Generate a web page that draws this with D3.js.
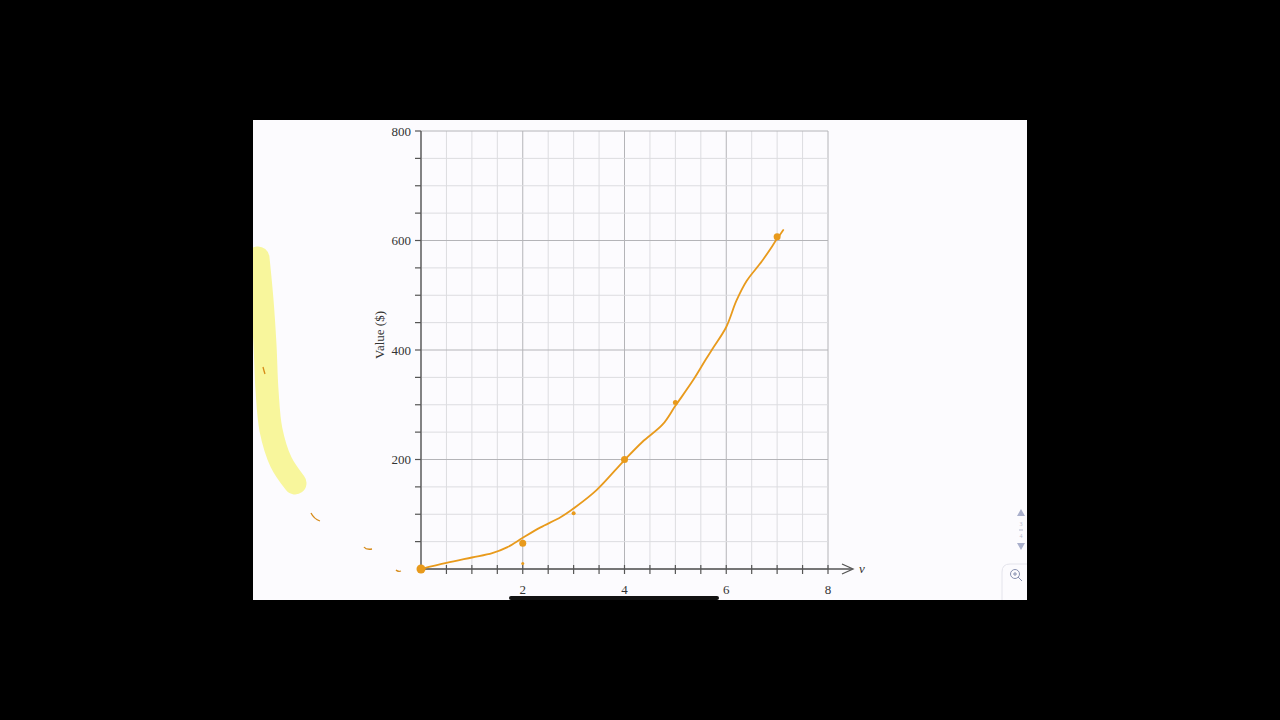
<!DOCTYPE html>
<html>
<head>
<meta charset="utf-8">
<script src="https://cdn.jsdelivr.net/npm/d3@7"></script>
<style>
  html, body { margin: 0; padding: 0; background: #000; }
  svg { display: block; }
  text { font-family: "Liberation Serif", "DejaVu Serif", serif; fill: #333; }
</style>
</head>
<body>
<svg id="chart" width="1280" height="720"></svg>
<script>
// hand drawn curve
const curveX = [0, 0.5, 1, 1.4, 1.7, 2, 2.35, 2.75, 3.05, 3.45, 4, 4.35, 4.75, 5, 5.35, 5.6, 5.75, 6, 6.2, 6.4, 6.7, 7, 7.12];
const curveY = [0, 11, 21, 29, 40, 57, 76, 95, 114, 144, 199, 232, 264, 298, 345, 383, 405, 442, 490, 526, 562, 603, 619];

// dots put down on the grid
const dotX = [0, 2, 2, 3, 4, 5, 7];
const dotY = [0, 47, 10, 102, 200, 304, 607];
const dotR = [4.5, 3.5, 1.5, 2, 3.5, 2.5, 3.5];

const xTickLabels = [2, 4, 6, 8];
const yTickLabels = [200, 400, 600, 800];

const orange = "#e89a1c";

const svg = d3.select("#chart");

// page
svg.append("rect")
  .attr("x", 253).attr("y", 120)
  .attr("width", 774).attr("height", 480)
  .attr("fill", "#fcfbfe");

svg.append("clipPath").attr("id", "page")
  .append("rect")
  .attr("x", 253).attr("y", 120)
  .attr("width", 774).attr("height", 480);

const x = d3.scaleLinear().domain([0, 8]).range([421, 828]);
const y = d3.scaleLinear().domain([0, 800]).range([569, 131]);

// grid
const g = svg.append("g");
const xs = d3.range(0, 8.01, 0.5);
const ys = d3.range(0, 801, 50);

g.selectAll(".vgrid").data(xs).join("line")
  .attr("x1", d => x(d)).attr("x2", d => x(d))
  .attr("y1", y(800)).attr("y2", y(0))
  .attr("stroke", d => d % 2 === 0 ? "#b4b4b8" : "#dcdce0")
  .attr("stroke-width", 1);

g.selectAll(".hgrid").data(ys).join("line")
  .attr("x1", x(0)).attr("x2", x(8))
  .attr("y1", d => y(d)).attr("y2", d => y(d))
  .attr("stroke", d => d % 200 === 0 ? "#b4b4b8" : "#dcdce0")
  .attr("stroke-width", 1);

// y axis
g.append("line")
  .attr("x1", x(0)).attr("x2", x(0))
  .attr("y1", y(800)).attr("y2", y(0))
  .attr("stroke", "#555").attr("stroke-width", 1.3);

g.selectAll(".ytick").data(ys.filter(d => d > 0)).join("line")
  .attr("x1", x(0) - 6).attr("x2", x(0))
  .attr("y1", d => y(d)).attr("y2", d => y(d))
  .attr("stroke", "#555").attr("stroke-width", 1.2);

g.selectAll(".ylab").data(yTickLabels).join("text")
  .attr("x", x(0) - 10).attr("y", d => y(d) + 4.5)
  .attr("text-anchor", "end")
  .attr("font-size", 13)
  .text(d => d);

svg.append("text")
  .attr("transform", `translate(384, ${y(400) - 15}) rotate(-90)`)
  .attr("text-anchor", "middle")
  .attr("font-size", 13)
  .text("Value ($)");

// x axis with arrow
g.append("line")
  .attr("x1", x(0)).attr("x2", 852)
  .attr("y1", y(0)).attr("y2", y(0))
  .attr("stroke", "#555").attr("stroke-width", 1.3);

g.append("path")
  .attr("d", `M842,${y(0) - 5} L853,${y(0)} L842,${y(0) + 5}`)
  .attr("fill", "none").attr("stroke", "#555").attr("stroke-width", 1.3);

g.selectAll(".xtick").data(xs.filter(d => d > 0)).join("line")
  .attr("x1", d => x(d)).attr("x2", d => x(d))
  .attr("y1", y(0) - 4).attr("y2", y(0) + 5)
  .attr("stroke", "#555").attr("stroke-width", 1.2);

g.selectAll(".xlab").data(xTickLabels).join("text")
  .attr("x", d => x(d)).attr("y", y(0) + 25)
  .attr("text-anchor", "middle")
  .attr("font-size", 13)
  .text(d => d);

svg.append("text")
  .attr("x", 862).attr("y", y(0) + 4)
  .attr("text-anchor", "middle")
  .attr("font-size", 13)
  .attr("font-style", "italic")
  .text("v");

// the curve
const line = d3.line()
  .x((d, i) => x(curveX[i]))
  .y(d => y(d))
  .curve(d3.curveCatmullRom.alpha(0.5));

svg.append("path")
  .attr("d", line(curveY))
  .attr("fill", "none")
  .attr("stroke", orange)
  .attr("stroke-width", 1.8)
  .attr("stroke-linecap", "round");

svg.selectAll(".dot").data(dotY).join("circle")
  .attr("cx", (d, i) => x(dotX[i]))
  .attr("cy", d => y(d))
  .attr("r", (d, i) => dotR[i])
  .attr("fill", orange);

// highlighter stroke and pen marks on the left margin
const hl = [[258, 258], [262, 300], [265, 345], [267, 390], [271, 430], [281, 462], [295, 483]];
svg.append("path")
  .attr("clip-path", "url(#page)")
  .attr("d", d3.line().curve(d3.curveCatmullRom)(hl))
  .attr("fill", "none")
  .attr("stroke", "#f8f69c")
  .attr("stroke-width", 23)
  .attr("stroke-linecap", "round");

const marks = [
  "M263,367 q1,4 2,7",
  "M311,513 q3,6 9,8",
  "M364,547 q2,3 8,2",
  "M396,570 q2,2 5,1"
];
svg.selectAll(".mark").data(marks).join("path")
  .attr("d", d => d)
  .attr("fill", "none")
  .attr("stroke", "#d68a18")
  .attr("stroke-width", 1.3);

// page scroller and zoom icon on the right
svg.append("path")
  .attr("d", "M1017,516 L1021,509 L1025,516 Z M1017,543 L1021,550 L1025,543 Z")
  .attr("fill", "#aab0cc");
svg.append("text")
  .attr("x", 1021).attr("y", 526)
  .attr("text-anchor", "middle").attr("font-size", 6)
  .style("fill", "#b8bcd0").text("3");
svg.append("text")
  .attr("x", 1021).attr("y", 538)
  .attr("text-anchor", "middle").attr("font-size", 6)
  .style("fill", "#b8bcd0").text("4");
svg.append("line")
  .attr("x1", 1019).attr("x2", 1023).attr("y1", 530).attr("y2", 530)
  .attr("stroke", "#b8bcd0");
svg.append("path")
  .attr("d", "M1027,564 L1010,564 Q1002,564 1002,572 L1002,600")
  .attr("fill", "none").attr("stroke", "#e4e4ec");
svg.append("circle")
  .attr("cx", 1015).attr("cy", 574).attr("r", 4.5)
  .attr("fill", "none").attr("stroke", "#8890b0").attr("stroke-width", 1);
svg.append("path")
  .attr("d", "M1018,577 L1022,581 M1013,574 L1017,574 M1015,572 L1015,576")
  .attr("stroke", "#8890b0").attr("stroke-width", 1);

// home bar at the bottom
svg.append("rect")
  .attr("x", 509).attr("y", 596)
  .attr("width", 210).attr("height", 4)
  .attr("rx", 2)
  .attr("fill", "#111");
</script>
</body>
</html>
